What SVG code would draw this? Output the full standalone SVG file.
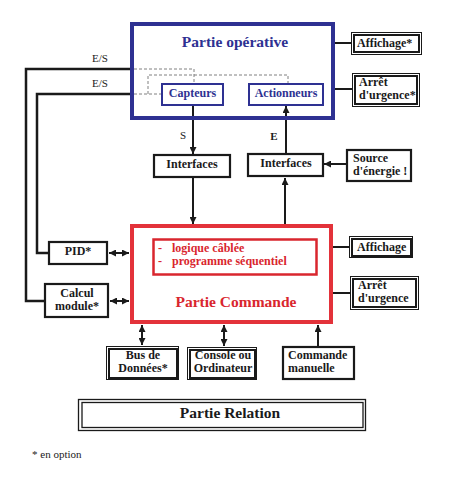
<svg xmlns="http://www.w3.org/2000/svg" width="455" height="481" viewBox="0 0 455 481">
<style>
text{font-family:"Liberation Serif","Times New Roman",serif;fill:#1a1a1a}
.b{font-weight:bold;font-size:12px}
.big{font-weight:bold;font-size:15.5px}
.blue{fill:#2e3192}
.red{fill:#d9262e}
.box{fill:#fff;stroke:#1a1a1a;stroke-width:2.2}
.thin{fill:#fff;stroke:#1a1a1a;stroke-width:1}
.in{fill:none;stroke:#1a1a1a;stroke-width:2}
.ln{fill:none;stroke:#1a1a1a;stroke-width:2}
.es{fill:none;stroke:#1a1a1a;stroke-width:2.5}
.dash{fill:none;stroke:#808080;stroke-width:1;stroke-dasharray:3,2}
.mid{text-anchor:middle}
</style>
<defs>
<marker id="ah" viewBox="0 0 10 10" refX="10" refY="5" markerWidth="7" markerHeight="7" markerUnits="userSpaceOnUse" orient="auto-start-reverse">
<path d="M0,0 L10,5 L0,10 z" fill="#1a1a1a"/>
</marker>
</defs>
<rect width="455" height="481" fill="#fff"/>

<g id="connectors">
<polyline class="es" points="44,301 26,301 26,69 132,69"/>
<polyline class="es" points="48,253 37,253 37,94 132,94"/>
<polyline class="dash" points="134,69 194,69 194,84"/>
<polyline class="dash" points="134,94 162,94"/>
<polyline class="dash" points="148,94 148,75 288,75 288,84"/>
<line class="ln" x1="193" y1="106" x2="193" y2="154" marker-end="url(#ah)"/>
<line class="ln" x1="193" y1="178" x2="193" y2="224" stroke-width="1.6" marker-end="url(#ah)"/>
<line class="ln" x1="286" y1="154" x2="286" y2="106" marker-end="url(#ah)"/>
<line class="ln" x1="285" y1="224" x2="285" y2="178" marker-end="url(#ah)"/>
<line class="ln" x1="346" y1="164" x2="324" y2="164" marker-end="url(#ah)"/>
<line class="ln" x1="335" y1="43" x2="351" y2="43"/>
<line class="ln" x1="335" y1="89" x2="352" y2="89"/>
<line class="ln" x1="333" y1="247" x2="349" y2="247"/>
<line class="ln" x1="333" y1="293" x2="350" y2="293"/>
<line class="ln" x1="109" y1="253" x2="129" y2="253" marker-start="url(#ah)" marker-end="url(#ah)"/>
<line class="ln" x1="110" y1="301" x2="129" y2="301" marker-start="url(#ah)" marker-end="url(#ah)"/>
<line class="ln" x1="142" y1="325" x2="142" y2="345" marker-start="url(#ah)" marker-end="url(#ah)"/>
<line class="ln" x1="224" y1="325" x2="224" y2="346" marker-start="url(#ah)" marker-end="url(#ah)"/>
<line class="ln" x1="318" y1="346" x2="318" y2="325" marker-end="url(#ah)"/>
<text x="100" y="62" class="mid" font-size="11">E/S</text>
<text x="100" y="87" class="mid" font-size="11">E/S</text>
<text x="183" y="139" class="mid" font-size="11">S</text>
<text x="274" y="140" class="mid" font-size="11" font-weight="bold">E</text>
</g>

<g id="partie-operative">
<rect x="132" y="24" width="201" height="94" fill="none" stroke="#2e3192" stroke-width="4"/>
<text x="235" y="47" class="big blue mid">Partie opérative</text>
</g>
<g id="capteurs">
<rect x="162" y="84" width="61" height="21" fill="#fff" stroke="#2e3192" stroke-width="2"/>
<text x="192.5" y="97" class="b blue mid">Capteurs</text>
</g>
<g id="actionneurs">
<rect x="249" y="84" width="74" height="21" fill="#fff" stroke="#2e3192" stroke-width="2"/>
<text x="286" y="97" class="b blue mid">Actionneurs</text>
</g>

<g id="affichage-po">
<rect class="thin" x="351.5" y="32.5" width="70" height="22"/>
<rect class="in" x="354" y="35" width="65" height="17"/>
<text x="357" y="47" class="b">Affichage*</text>
</g>
<g id="arret-po">
<rect class="thin" x="352.5" y="73.5" width="67" height="33"/>
<rect class="in" x="355" y="76" width="62" height="28"/>
<text x="359" y="86" class="b">Arrêt</text>
<text x="359" y="99" class="b">d'urgence*</text>
</g>

<g id="interfaces-s">
<rect class="box" x="154" y="155" width="76" height="22"/>
<text x="192" y="168" class="b mid">Interfaces</text>
</g>
<g id="interfaces-e">
<rect class="box" x="248" y="154" width="75" height="22"/>
<text x="286" y="167" class="b mid">Interfaces</text>
</g>
<g id="source">
<rect class="box" x="347" y="150" width="64" height="31"/>
<text x="353" y="162" class="b">Source</text>
<text x="353" y="175" class="b">d'énergie !</text>
</g>

<g id="pid">
<rect class="box" x="49" y="242" width="58" height="22"/>
<text x="78" y="255" class="b mid">PID*</text>
</g>
<g id="calcul">
<rect class="box" x="45" y="284" width="63" height="33"/>
<text x="77" y="297" class="b mid">Calcul</text>
<text x="77" y="310" class="b mid">module*</text>
</g>

<g id="partie-commande">
<rect x="132" y="226" width="199" height="96" fill="#fff" stroke="#e3323a" stroke-width="4"/>
<rect x="153.5" y="239.5" width="163" height="35" fill="none" stroke="#d9262e" stroke-width="2.5"/>
<text x="158" y="252" class="b red">-</text>
<text x="172" y="252" class="b red">logique câblée</text>
<text x="158" y="265" class="b red">-</text>
<text x="172" y="265" class="b red">programme séquentiel</text>
<text x="236" y="307" class="big red mid">Partie Commande</text>
</g>

<g id="affichage-pc">
<rect class="thin" x="349.5" y="236.5" width="63" height="21"/>
<rect class="in" x="352" y="239" width="59" height="17"/>
<text x="357" y="251" class="b">Affichage</text>
</g>
<g id="arret-pc">
<rect class="thin" x="350.5" y="276.5" width="68" height="33"/>
<rect class="in" x="353" y="279" width="63" height="28"/>
<text x="358" y="289" class="b">Arrêt</text>
<text x="358" y="302" class="b">d'urgence</text>
</g>

<g id="bus">
<rect class="thin" x="106.5" y="346.5" width="72" height="33"/>
<rect class="in" x="109" y="349" width="68" height="29"/>
<text x="143" y="359" class="b mid">Bus de</text>
<text x="143" y="372" class="b mid">Données*</text>
</g>
<g id="console">
<rect class="thin" x="187.5" y="347.5" width="69" height="32"/>
<rect class="in" x="190" y="350" width="65" height="28"/>
<text x="223" y="359" class="b mid">Console ou</text>
<text x="223" y="372" class="b mid">Ordinateur</text>
</g>
<g id="commande-manuelle">
<rect class="box" x="283" y="347" width="71" height="32"/>
<text x="288" y="359" class="b">Commande</text>
<text x="288" y="372" class="b">manuelle</text>
</g>

<g id="partie-relation">
<rect x="78.5" y="399.5" width="287" height="31" fill="#fff" stroke="#1a1a1a" stroke-width="1.3"/>
<rect x="82" y="402.5" width="281" height="25" fill="none" stroke="#1a1a1a" stroke-width="1.3"/>
<text x="230" y="418" class="big mid">Partie Relation</text>
</g>

<text x="32" y="458" font-size="11">* en option</text>
</svg>
